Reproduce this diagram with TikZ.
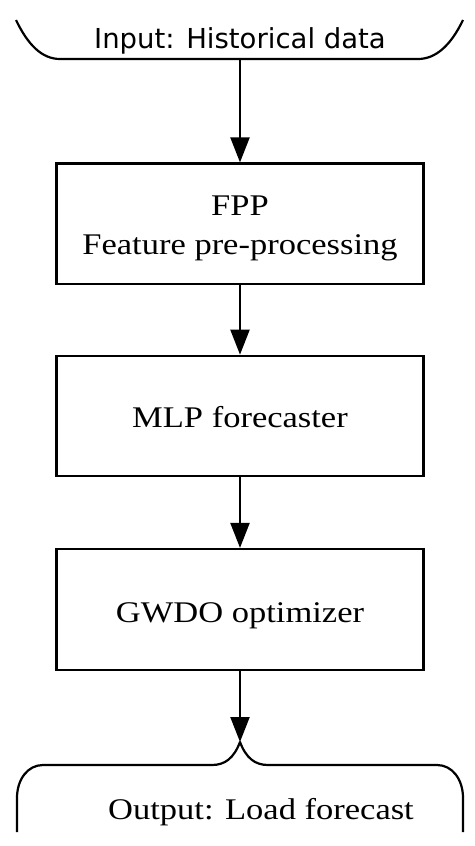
\documentclass[tikz,border=0pt]{standalone}
\usepackage{fontspec}
\usetikzlibrary{arrows.meta}
\newfontfamily\serifF[FakeStretch=1.15]{Liberation Serif}
\newfontfamily\sansF{DejaVu Sans}
\tikzset{
  lw/.style={line width=2.2pt},
  boxnode/.style={draw, lw, minimum width=367pt, minimum height=120.5pt, inner sep=0pt,
    font=\serifF\fontsize{30}{39}\selectfont, align=center},
  arr/.style={lw, -{Triangle[width=19pt,length=25pt]}},
  termline/.style={lw, line join=round},
}
\begin{document}
\begin{tikzpicture}[x=1pt,y=-1pt]
\useasboundingbox (0,0) rectangle (474,846);
% input terminal
\draw[termline] (16,20) .. controls (28,45) and (42,59) .. (60,59) -- (418,59)
  .. controls (436,59) and (451,45) .. (463,20);
\node[anchor=base, inner sep=0pt, font=\sansF\fontsize{27.5}{33}\selectfont] (in) at (240,48) {Input: Historical data};
\coordinate (inb) at (240,59);
% boxes
\node[boxnode] (fpp) at (240,223.75) {\rule{0pt}{28.5pt}FPP\\Feature pre-processing};
\node[boxnode, text height=22pt, text depth=0pt] (mlp) at (240,416) {MLP forecaster};
\node[boxnode, text height=25pt, text depth=0pt, minimum height=121pt] (gwdo) at (240,609.5) {GWDO optimizer};
% output terminal
\coordinate (outtip) at (240,742);
\draw[termline] (17,832) -- (17,798) .. controls (17,779) and (28,765) .. (43,765) -- (212,765)
  .. controls (225,765) and (234,758) .. (outtip)
  .. controls (246,758) and (255,765) .. (268,765) -- (437,765)
  .. controls (452,765) and (463,779) .. (463,798) -- (463,832);
\node[anchor=base, inner sep=0pt, font=\serifF\fontsize{30}{36}\selectfont] (out) at (261,819) {Output: Load forecast};
% connectors
\draw[arr] (inb) -- (fpp.north);
\draw[arr] (fpp.south) -- (mlp.north);
\draw[arr] (mlp.south) -- (gwdo.north);
\draw[arr] (gwdo.south) -- (outtip);
\end{tikzpicture}
\end{document}
